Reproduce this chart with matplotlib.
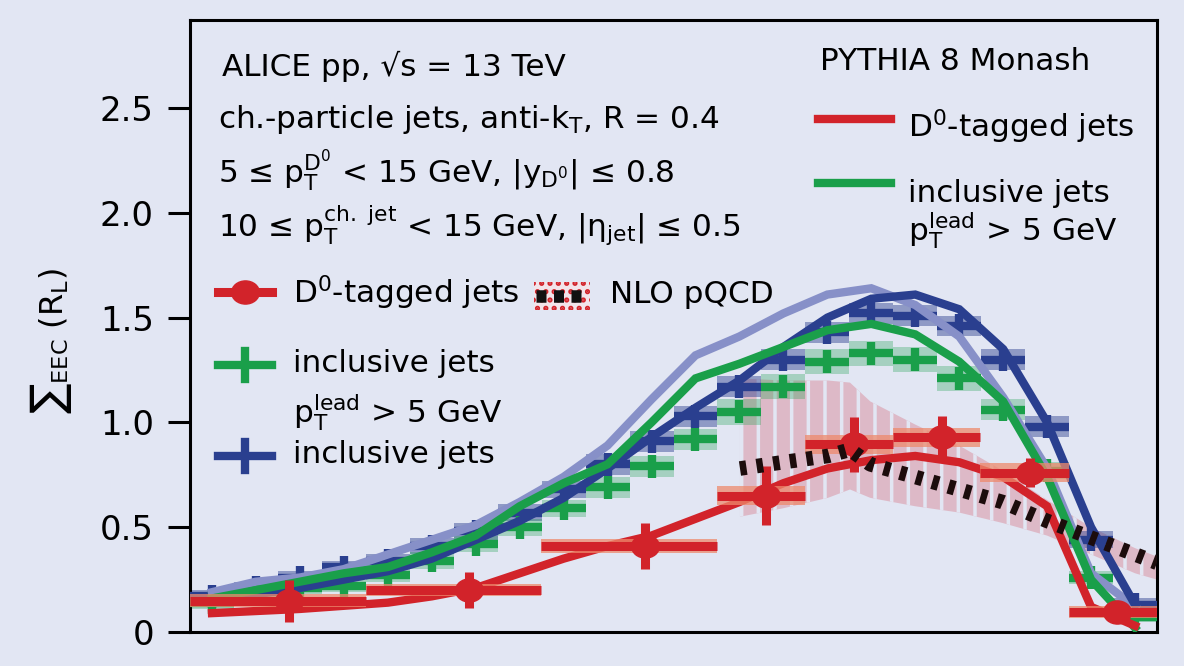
import numpy as np
import matplotlib.pyplot as plt
from matplotlib.path import Path
from matplotlib.transforms import Affine2D
from matplotlib.patches import Rectangle

bg = "#e2e6f3"
red = "#d2232a"
green = "#1a9f4a"
navy = "#2a3f8f"
lavender = "#8790c8"

# R_L binning of the inclusive-jet points: 22 log bins from 0.01 to 0.4
rl_edges = np.geomspace(0.01, 0.4, 23)
rl_mid = np.sqrt(rl_edges[:-1] * rl_edges[1:])

# inclusive jets (data)
incl_val = [0.17, 0.21, 0.26, 0.31, 0.34, 0.41, 0.48, 0.57, 0.68, 0.80, 0.91,
            1.03, 1.17, 1.30, 1.43, 1.52, 1.51, 1.46, 1.30, 0.98, 0.44, 0.13]
incl_sys = [0.03, 0.03, 0.03, 0.03, 0.03, 0.04, 0.04, 0.04, 0.04, 0.05, 0.05,
            0.05, 0.05, 0.05, 0.05, 0.05, 0.05, 0.05, 0.05, 0.05, 0.04, 0.03]

# inclusive jets, leading track pT > 5 GeV (data)
lead_val = [0.14, 0.19, 0.21, 0.22, 0.27, 0.34, 0.42, 0.50, 0.59, 0.69, 0.79,
            0.92, 1.05, 1.17, 1.29, 1.33, 1.30, 1.21, 1.06, 0.77, 0.26, 0.07]
lead_sys = [0.03, 0.03, 0.03, 0.03, 0.03, 0.04, 0.04, 0.04, 0.04, 0.05, 0.05,
            0.05, 0.06, 0.06, 0.06, 0.06, 0.06, 0.06, 0.05, 0.04, 0.03, 0.02]
cross_err = 0.055

# D0-tagged jets (data)
d0_edges = [0.01, 0.0196, 0.0382, 0.0747, 0.1045, 0.146, 0.204, 0.286, 0.4]
d0_x = [0.0146, 0.029, 0.0568, 0.090, 0.126, 0.176, 0.246, 0.344]
d0_val = [0.15, 0.20, 0.41, 0.65, 0.895, 0.93, 0.76, 0.095]
d0_stat = [0.10, 0.085, 0.11, 0.14, 0.13, 0.10, 0.07, 0.03]
d0_sys = [0.03, 0.03, 0.035, 0.045, 0.045, 0.045, 0.045, 0.03]

# PYTHIA 8 Monash curves (at inclusive bin centres)
py_d0 = [0.09, 0.10, 0.11, 0.125, 0.14, 0.17, 0.21, 0.28, 0.35, 0.41, 0.46,
         0.54, 0.62, 0.71, 0.78, 0.82, 0.84, 0.81, 0.74, 0.60, 0.12, 0.03]
py_lead = [0.16, 0.20, 0.24, 0.28, 0.31, 0.38, 0.46, 0.60, 0.71, 0.80, 1.00,
           1.21, 1.28, 1.36, 1.44, 1.47, 1.42, 1.29, 1.10, 0.74, 0.25, 0.02]
py_incl = [0.15, 0.18, 0.21, 0.25, 0.29, 0.35, 0.44, 0.53, 0.64, 0.78, 0.93,
           1.07, 1.20, 1.36, 1.50, 1.59, 1.61, 1.54, 1.35, 1.00, 0.50, 0.13]
py_other = [0.19, 0.24, 0.26, 0.30, 0.37, 0.44, 0.51, 0.62, 0.74, 0.89, 1.11,
            1.32, 1.41, 1.52, 1.61, 1.64, 1.56, 1.41, 1.12, 0.78, 0.28, 0.12]

# NLO pQCD for D0 jets
nlo_x = [0.0815, 0.096, 0.114, 0.124, 0.134, 0.159, 0.188, 0.222, 0.263, 0.311, 0.368, 0.4]
nlo_val = [0.78, 0.81, 0.84, 0.87, 0.80, 0.74, 0.68, 0.62, 0.53, 0.45, 0.37, 0.33]
nlo_lo = [0.55, 0.59, 0.64, 0.68, 0.64, 0.60, 0.57, 0.52, 0.46, 0.37, 0.28, 0.25]
nlo_hi = [1.21, 1.20, 1.20, 1.19, 1.10, 0.99, 0.89, 0.77, 0.63, 0.50, 0.40, 0.36]

yticks = [0, 0.5, 1.0, 1.5, 2.0, 2.5]
ytick_labels = ["0", "0.5", "1.0", "1.5", "2.0", "2.5"]

plt.rcParams["hatch.linewidth"] = 2.5
plt.rcParams["font.family"] = ["DejaVu Sans"]

fig = plt.figure(figsize=(11.84, 6.66), dpi=100, facecolor=bg)
ax = fig.add_axes([190 / 1184, 34 / 666, 967 / 1184, 612 / 666])
ax.set_facecolor(bg)
ax.set_xscale("log")

lo_e = rl_edges[:-1]
w_e = np.diff(rl_edges)
xerr = [rl_mid - rl_edges[:-1], rl_edges[1:] - rl_mid]

# NLO band with white stripes
ax.fill_between(nlo_x, nlo_lo, nlo_hi, facecolor="#dcaab9", alpha=0.75, lw=0, zorder=1)
ax.fill_between(nlo_x, nlo_lo, nlo_hi, facecolor="none", edgecolor=bg, hatch="|", lw=0, zorder=1.1)

# systematic boxes
ax.bar(lo_e, 2 * np.array(incl_sys), bottom=np.array(incl_val) - incl_sys, width=w_e,
       align="edge", color=navy, alpha=0.45, lw=0, zorder=2)
ax.bar(lo_e, 2 * np.array(lead_sys), bottom=np.array(lead_val) - lead_sys, width=w_e,
       align="edge", color=green, alpha=0.3, lw=0, zorder=2)

# data crosses
ax.errorbar(rl_mid, incl_val, xerr=xerr, yerr=cross_err, fmt="none", ecolor=navy,
            elinewidth=6, capsize=0, zorder=3)
ax.errorbar(rl_mid, lead_val, xerr=xerr, yerr=cross_err, fmt="none", ecolor=green,
            elinewidth=6, capsize=0, zorder=3)

# PYTHIA curves
ax.plot(rl_mid, py_other, color=lavender, lw=6, zorder=4, solid_joinstyle="miter")
ax.plot(rl_mid, py_incl, color=navy, lw=6, zorder=4.1, solid_joinstyle="miter")
ax.plot(rl_mid, py_lead, color=green, lw=6, zorder=4.2, solid_joinstyle="miter")
ax.plot(rl_mid, py_d0, color=red, lw=6, zorder=4.3, solid_joinstyle="miter")

# D0-tagged data
d0_lo = np.array(d0_edges[:-1])
d0_w = np.diff(d0_edges)
ax.bar(d0_lo, 2 * np.array(d0_sys), bottom=np.array(d0_val) - d0_sys, width=d0_w,
       align="edge", color="#ee8a6c", alpha=0.75, lw=0, zorder=4.5)
ellipse = Path.unit_circle().transformed(Affine2D().scale(1.2, 1.0))
d0_xerr = [np.array(d0_x) - d0_lo, np.array(d0_edges[1:]) - np.array(d0_x)]
ax.errorbar(d0_x, d0_val, xerr=d0_xerr, yerr=d0_stat, fmt="none", ecolor=red,
            elinewidth=6.5, capsize=0, zorder=5)
ax.plot(d0_x, d0_val, ls="none", marker=ellipse, ms=20, color=red, zorder=5.1)

# NLO central value
ax.plot(nlo_x, nlo_val, color="#1c0c0c", lw=10.5, dashes=(0.45, 0.7),
        dash_capstyle="butt", zorder=6)

ax.set_xlim(0.01, 0.4)
ax.set_ylim(0, 2.92)
ax.set_yticks(yticks)
ax.set_yticklabels(ytick_labels)
ax.tick_params(axis="y", direction="out", length=16, width=2.2, labelsize=24.5, pad=10)
ax.tick_params(axis="x", which="both", bottom=False, labelbottom=False)
ax.xaxis.set_major_locator(plt.NullLocator())
ax.xaxis.set_minor_locator(plt.NullLocator())
for s in ax.spines.values():
    s.set_linewidth(2.2)

ax.set_ylabel("\u2211$_\\mathregular{EEC}$ (R$_\\mathregular{L}$)", fontsize=23)
ax.yaxis.set_label_coords(-0.12, 0.475)

fs = 22.4
tr = ax.transAxes
kw = dict(transform=tr, fontsize=fs, va="baseline", ha="left")

ax.text(0.033, 0.9085, "ALICE pp, \u221as = 13 TeV", **kw)
ax.text(0.029, 0.8235, "ch.-particle jets, anti-k$_\\mathregular{T}$, R = 0.4", **kw)
ax.text(0.029, 0.7353, "5 \u2264 p$_\\mathregular{T}^\\mathregular{D^0}$ < 15 GeV, "
        "|y$_\\mathregular{D^0}$| \u2264 0.8", **kw)
ax.text(0.029, 0.6471, "10 \u2264 p$_\\mathregular{T}^\\mathregular{ch.\\ jet}$ < 15 GeV, "
        "|\u03b7$_\\mathregular{jet}$| \u2264 0.5", **kw)

# data legend
hx = [0.0286, 0.0848]
hc = 0.0565
ax.plot(hx, [0.5556, 0.5556], color=red, lw=6.5, transform=tr, clip_on=False)
ax.plot([hc], [0.5556], marker=ellipse, ms=20, color=red, transform=tr, clip_on=False)
ax.text(0.107, 0.5376, "D$^\\mathregular{0}$-tagged jets", **kw)

ax.plot(hx, [0.436, 0.436], color=green, lw=6, transform=tr, clip_on=False)
ax.plot([hc, hc], [0.413, 0.459], color=green, lw=6, transform=tr, clip_on=False)
ax.text(0.107, 0.4248, "inclusive jets", **kw)
ax.text(0.107, 0.3431, "p$_\\mathregular{T}^\\mathregular{lead}$ > 5 GeV", **kw)

ax.plot(hx, [0.2876, 0.2876], color=navy, lw=6, transform=tr, clip_on=False)
ax.plot([hc, hc], [0.265, 0.31], color=navy, lw=6, transform=tr, clip_on=False)
ax.text(0.107, 0.2761, "inclusive jets", **kw)

ax.add_patch(Rectangle((0.356, 0.526), 0.058, 0.046, transform=tr, facecolor="#f2e4ea",
                       edgecolor=red, hatch="..", lw=0, zorder=7))
ax.plot([0.358, 0.412], [0.549, 0.549], color="#111111", lw=9, dashes=(0.8, 0.6),
        dash_capstyle="butt", transform=tr, zorder=8)
ax.text(0.434, 0.5376, "NLO pQCD", **kw)

# PYTHIA legend
ax.text(0.652, 0.918, "PYTHIA 8 Monash", **kw)
ax.plot([0.6495, 0.725], [0.838, 0.838], color=red, lw=6, transform=tr)
ax.text(0.742, 0.8088, "D$^\\mathregular{0}$-tagged jets", **kw)
ax.plot([0.6495, 0.725], [0.7337, 0.7337], color=green, lw=6, transform=tr)
ax.text(0.742, 0.7025, "inclusive jets", **kw)
ax.text(0.742, 0.6405, "p$_\\mathregular{T}^\\mathregular{lead}$ > 5 GeV", **kw)

fig.savefig("out.png", dpi=100, facecolor=bg)
